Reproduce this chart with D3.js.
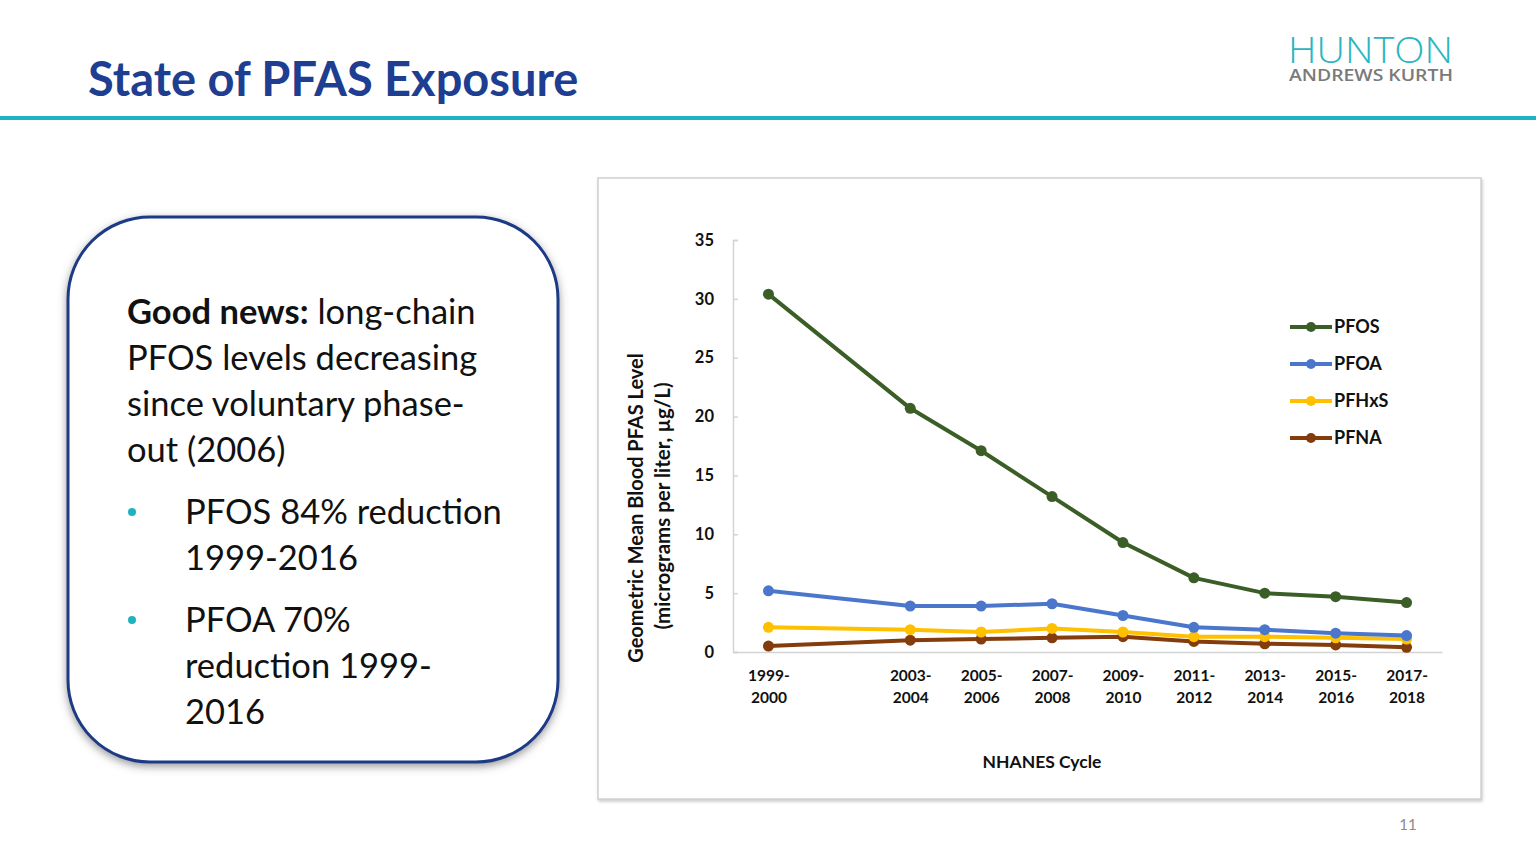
<!DOCTYPE html>
<html>
<head>
<meta charset="utf-8">
<script src="https://cdn.jsdelivr.net/npm/d3@7"></script>
<style>
  body { margin: 0; background: #fff; }
  svg { display: block; }
</style>
</head>
<body>
<div id="slide"></div>
<script>
// Data
const cycles = ["1999-2000", "2003-2004", "2005-2006", "2007-2008", "2009-2010",
                "2011-2012", "2013-2014", "2015-2016", "2017-2018"];
const startYears = [1999, 2003, 2005, 2007, 2009, 2011, 2013, 2015, 2017];
const pfos  = [30.4, 20.7, 17.1, 13.2, 9.3, 6.3, 5.0, 4.7, 4.2];
const pfoa  = [5.2, 3.9, 3.9, 4.1, 3.1, 2.1, 1.9, 1.6, 1.4];
const pfhxs = [2.1, 1.9, 1.7, 2.0, 1.7, 1.3, 1.3, 1.2, 1.1];
const pfna  = [0.5, 1.0, 1.1, 1.2, 1.3, 0.9, 0.7, 0.6, 0.4];
const seriesNames = ["PFOS", "PFOA", "PFHxS", "PFNA"];
const seriesColors = ["#3b5e26", "#4a77cc", "#ffc000", "#843c0c"];
const yTicks = [0, 5, 10, 15, 20, 25, 30, 35];

const series = [pfos, pfoa, pfhxs, pfna].map((vals, i) => ({
  name: seriesNames[i],
  color: seriesColors[i],
  values: vals.map((v, j) => ({ year: startYears[j], label: cycles[j], value: v }))
}));

const W = 1536, H = 864;
const svg = d3.select('#slide').append('svg')
  .attr('width', W).attr('height', H);

const defs = svg.append('defs');
const sh = defs.append('filter').attr('id', 'boxShadow')
  .attr('x', '-10%').attr('y', '-10%').attr('width', '120%').attr('height', '120%');
sh.append('feDropShadow').attr('dx', 0).attr('dy', 3).attr('stdDeviation', 4)
  .attr('flood-color', '#555').attr('flood-opacity', 0.6);
const sh2 = defs.append('filter').attr('id', 'panelShadow')
  .attr('x', '-5%').attr('y', '-5%').attr('width', '110%').attr('height', '110%');
sh2.append('feDropShadow').attr('dx', 1).attr('dy', 2).attr('stdDeviation', 1.5)
  .attr('flood-color', '#999').attr('flood-opacity', 0.5);

const bodyFont = "Lato, 'Open Sans', sans-serif";

// Header
svg.append('text')
  .attr('x', 88).attr('y', 96)
  .attr('font-family', bodyFont).attr('font-weight', 700)
  .attr('font-size', 47).attr('fill', '#1d3e91')
  .text('State of PFAS Exposure');

svg.append('rect')
  .attr('x', 0).attr('y', 116).attr('width', W).attr('height', 4)
  .attr('fill', '#1fb3bf');

svg.append('text')
  .attr('x', 1288).attr('y', 63)
  .attr('font-family', "'Open Sans', sans-serif").attr('font-weight', 300)
  .attr('font-size', 37).attr('fill', '#2bb5c0')
  .attr('textLength', 165).attr('lengthAdjust', 'spacingAndGlyphs')
  .text('HUNTON');
svg.append('text')
  .attr('x', 1289).attr('y', 81)
  .attr('font-family', "'Open Sans', sans-serif").attr('font-weight', 600)
  .attr('font-size', 16).attr('fill', '#7a7a7a')
  .attr('textLength', 164).attr('lengthAdjust', 'spacingAndGlyphs')
  .text('ANDREWS KURTH');

svg.append('text')
  .attr('x', 1408).attr('y', 830).attr('text-anchor', 'middle')
  .attr('font-family', bodyFont).attr('font-size', 15).attr('fill', '#8c8c8c')
  .text('11');

// Left rounded box
svg.append('rect')
  .attr('x', 68).attr('y', 217).attr('width', 490).attr('height', 545)
  .attr('rx', 82).attr('ry', 82)
  .attr('fill', '#fff').attr('stroke', '#1d3a86').attr('stroke-width', 3)
  .attr('filter', 'url(#boxShadow)');

const txt = svg.append('g')
  .attr('font-family', bodyFont).attr('font-size', 34.5).attr('fill', '#111');

const intro = txt.append('text').attr('x', 127).attr('y', 324);
intro.append('tspan').attr('font-weight', 700).text('Good news:');
intro.append('tspan').text(' long-chain');
[['PFOS levels decreasing', 370], ['since voluntary phase-', 416], ['out (2006)', 462]]
  .forEach(([s, y]) => txt.append('text').attr('x', 127).attr('y', y).text(s));

const bullets = [
  { y: 524, lines: ['PFOS 84% reduction', '1999-2016'] },
  { y: 632, lines: ['PFOA 70%', 'reduction 1999-', '2016'] }
];
bullets.forEach(b => {
  svg.append('circle').attr('cx', 132).attr('cy', b.y - 12).attr('r', 4).attr('fill', '#1fb3bf');
  b.lines.forEach((s, i) => txt.append('text').attr('x', 185).attr('y', b.y + i * 46).text(s));
});

// Chart panel
svg.append('rect')
  .attr('x', 598).attr('y', 178).attr('width', 883).attr('height', 621)
  .attr('fill', '#fff').attr('stroke', '#d0d0d0').attr('stroke-width', 1.5)
  .attr('filter', 'url(#panelShadow)');

const x = d3.scaleLinear().domain([1998, 2018]).range([733, 1442]);
const y = d3.scaleLinear().domain([0, 35]).range([652, 240]);

const chartFont = "Lato, 'Open Sans', sans-serif";

// y axis
const yAxis = svg.append('g')
  .attr('transform', 'translate(733,0)')
  .call(d3.axisLeft(y).tickValues(yTicks).tickSize(-5).tickPadding(19));
yAxis.select('.domain').attr('stroke', '#d4d4d4').attr('stroke-width', 1.5);
yAxis.selectAll('.tick line').attr('stroke', '#d4d4d4').attr('stroke-width', 1.5);
yAxis.selectAll('.tick text')
  .attr('font-family', chartFont).attr('font-weight', 700)
  .attr('font-size', 16.5).attr('fill', '#111');

// x axis
const xAxis = svg.append('g')
  .attr('transform', 'translate(0,652)')
  .call(d3.axisBottom(x).tickValues(startYears).tickSize(0).tickFormat(''));
xAxis.select('.domain').attr('stroke', '#d4d4d4').attr('stroke-width', 1.5);
xAxis.selectAll('.tick').each(function(d, i) {
  const parts = cycles[i].split('-');
  const t = d3.select(this).append('text')
    .attr('text-anchor', 'middle')
    .attr('font-family', chartFont).attr('font-weight', 700)
    .attr('font-size', 15.5).attr('fill', '#111');
  t.append('tspan').attr('x', 0).attr('y', 29).text(parts[0] + '-');
  t.append('tspan').attr('x', 0).attr('y', 51).text(parts[1]);
});

// axis titles
svg.append('text')
  .attr('transform', 'translate(643,508) rotate(-90)')
  .attr('text-anchor', 'middle')
  .attr('font-family', chartFont).attr('font-weight', 700)
  .attr('font-size', 20).attr('fill', '#111')
  .text('Geometric Mean Blood PFAS Level');
svg.append('text')
  .attr('transform', 'translate(670,506) rotate(-90)')
  .attr('text-anchor', 'middle')
  .attr('font-family', chartFont).attr('font-weight', 700)
  .attr('font-size', 20.5).attr('fill', '#111')
  .text('(micrograms per liter, µg/L)');
svg.append('text')
  .attr('x', 1042).attr('y', 768).attr('text-anchor', 'middle')
  .attr('font-family', chartFont).attr('font-weight', 700)
  .attr('font-size', 17.5).attr('fill', '#111')
  .text('NHANES Cycle');

// lines
const line = d3.line().x(d => x(d.year)).y(d => y(d.value));
const g = svg.append('g');
series.slice().reverse().forEach(s => {
  g.append('path').datum(s.values)
    .attr('d', line).attr('fill', 'none')
    .attr('stroke', s.color).attr('stroke-width', 4)
    .attr('stroke-linejoin', 'round');
  g.selectAll(null).data(s.values).join('circle')
    .attr('cx', d => x(d.year)).attr('cy', d => y(d.value))
    .attr('r', 5.5).attr('fill', s.color);
});

// legend
const leg = svg.append('g').attr('transform', 'translate(1290,327)');
series.forEach((s, i) => {
  const row = leg.append('g').attr('transform', `translate(0,${i * 37})`);
  row.append('line').attr('x1', 0).attr('x2', 42).attr('y1', 0).attr('y2', 0)
    .attr('stroke', s.color).attr('stroke-width', 4);
  row.append('circle').attr('cx', 21).attr('cy', 0).attr('r', 5).attr('fill', s.color);
  row.append('text').attr('x', 44).attr('y', 6)
    .attr('font-family', chartFont).attr('font-weight', 700)
    .attr('font-size', 18).attr('fill', '#111')
    .text(s.name);
});
</script>
</body>
</html>
